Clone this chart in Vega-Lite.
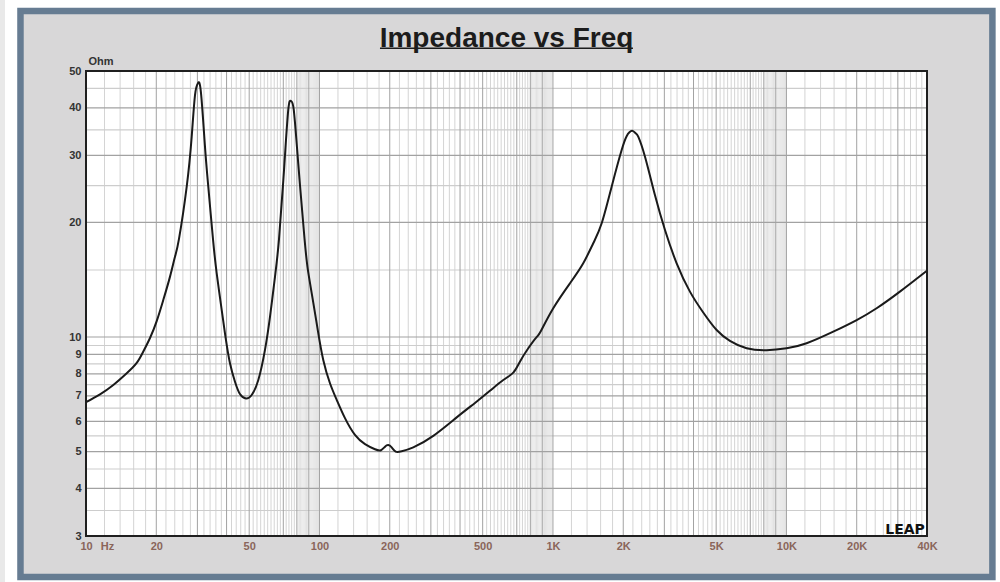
{
  "$schema": "https://vega.github.io/schema/vega-lite/v6.json",
  "width": 841,
  "height": 465,
  "autosize": {"type": "none"},
  "padding": {"left": 86, "top": 71, "right": 73, "bottom": 46},
  "background": "#ffffff",
  "title": {
    "text": "Impedance vs Freq",
    "font": "Liberation Sans",
    "fontWeight": "bold",
    "fontSize": 28,
    "color": "#1c1c1c",
    "anchor": "middle",
    "offset": -53,
    "zindex": 1
  },
  "config": {
    "view": {"stroke": null}
  },
  "datasets": {
    "curve": [
      {"hz": 10, "ohm": 6.74}, {"hz": 11.48, "ohm": 7.07}, {"hz": 13.09, "ohm": 7.48}, {"hz": 14.94, "ohm": 8.03},
      {"hz": 16.49, "ohm": 8.55}, {"hz": 17.6, "ohm": 9.16}, {"hz": 18.8, "ohm": 9.94}, {"hz": 20.08, "ohm": 11.01},
      {"hz": 21.43, "ohm": 12.51}, {"hz": 22.9, "ohm": 14.41}, {"hz": 24.05, "ohm": 16.26}, {"hz": 25.02, "ohm": 18.1},
      {"hz": 27, "ohm": 24.83}, {"hz": 28.36, "ohm": 33.6}, {"hz": 29.3, "ohm": 43.2}, {"hz": 30.19, "ohm": 46.5},
      {"hz": 31.08, "ohm": 43.8}, {"hz": 32.33, "ohm": 31.64}, {"hz": 33.4, "ohm": 24.83}, {"hz": 34.98, "ohm": 18.1},
      {"hz": 36.29, "ohm": 14.7}, {"hz": 38.12, "ohm": 11.78}, {"hz": 39.65, "ohm": 9.93}, {"hz": 41.37, "ohm": 8.53},
      {"hz": 43.46, "ohm": 7.63}, {"hz": 45.65, "ohm": 7.08}, {"hz": 48.44, "ohm": 6.89}, {"hz": 51.24, "ohm": 7.04},
      {"hz": 54.7, "ohm": 7.71}, {"hz": 58.4, "ohm": 9.24}, {"hz": 61.4, "ohm": 11.31}, {"hz": 64.5, "ohm": 14.41},
      {"hz": 67.1, "ohm": 18.1}, {"hz": 70.5, "ohm": 27.5}, {"hz": 73.5, "ohm": 39.5}, {"hz": 75.5, "ohm": 41.7},
      {"hz": 77.6, "ohm": 39.5}, {"hz": 81.1, "ohm": 28.6}, {"hz": 86.3, "ohm": 18.1}, {"hz": 89.5, "ohm": 14.8},
      {"hz": 94.1, "ohm": 12.3}, {"hz": 98.5, "ohm": 10.36}, {"hz": 103.8, "ohm": 8.7}, {"hz": 110.9, "ohm": 7.56},
      {"hz": 118.5, "ohm": 6.84}, {"hz": 128.6, "ohm": 6.12}, {"hz": 141.9, "ohm": 5.53}, {"hz": 156.7, "ohm": 5.23},
      {"hz": 172.9, "ohm": 5.07}, {"hz": 183.4, "ohm": 5.04}, {"hz": 190.8, "ohm": 5.15}, {"hz": 197.1, "ohm": 5.2},
      {"hz": 203.8, "ohm": 5.13}, {"hz": 212, "ohm": 5.0}, {"hz": 224.9, "ohm": 5.01}, {"hz": 252.2, "ohm": 5.13},
      {"hz": 307.2, "ohm": 5.5}, {"hz": 387, "ohm": 6.15}, {"hz": 463.4, "ohm": 6.71}, {"hz": 537, "ohm": 7.22},
      {"hz": 612.6, "ohm": 7.71}, {"hz": 676, "ohm": 8.06}, {"hz": 722, "ohm": 8.61}, {"hz": 784, "ohm": 9.34},
      {"hz": 851, "ohm": 9.99}, {"hz": 888, "ohm": 10.37}, {"hz": 1003, "ohm": 11.9}, {"hz": 1183, "ohm": 13.84},
      {"hz": 1348, "ohm": 15.62}, {"hz": 1488, "ohm": 17.63}, {"hz": 1617, "ohm": 19.9}, {"hz": 1784, "ohm": 24.83},
      {"hz": 1969, "ohm": 31.0}, {"hz": 2068, "ohm": 33.7}, {"hz": 2126, "ohm": 34.5}, {"hz": 2194, "ohm": 34.8},
      {"hz": 2267, "ohm": 34.25}, {"hz": 2319, "ohm": 33.6},
      {"hz": 2477, "ohm": 29.8}, {"hz": 2734, "ohm": 23.6}, {"hz": 3019, "ohm": 19.1}, {"hz": 3387, "ohm": 15.62},
      {"hz": 3861, "ohm": 13.16}, {"hz": 4402, "ohm": 11.6}, {"hz": 5024, "ohm": 10.43}, {"hz": 5728, "ohm": 9.77},
      {"hz": 6754, "ohm": 9.34}, {"hz": 8226, "ohm": 9.23}, {"hz": 10020, "ohm": 9.34}, {"hz": 12200, "ohm": 9.63},
      {"hz": 15870, "ohm": 10.33}, {"hz": 19990, "ohm": 11.08}, {"hz": 24340, "ohm": 11.9}, {"hz": 30620, "ohm": 13.16},
      {"hz": 40000, "ohm": 14.94}
    ],
    "xMinor": [
      {"hz": 12}, {"hz": 14}, {"hz": 16}, {"hz": 18}, {"hz": 22}, {"hz": 24}, {"hz": 26}, {"hz": 28},
      {"hz": 32}, {"hz": 34}, {"hz": 36}, {"hz": 38}, {"hz": 42}, {"hz": 44}, {"hz": 46}, {"hz": 48},
      {"hz": 52}, {"hz": 54}, {"hz": 56}, {"hz": 58}, {"hz": 60}, {"hz": 62}, {"hz": 64}, {"hz": 66}, {"hz": 68},
      {"hz": 72}, {"hz": 74}, {"hz": 76}, {"hz": 78},
      {"hz": 120}, {"hz": 140}, {"hz": 160}, {"hz": 180}, {"hz": 220}, {"hz": 240}, {"hz": 260}, {"hz": 280},
      {"hz": 320}, {"hz": 340}, {"hz": 360}, {"hz": 380}, {"hz": 420}, {"hz": 440}, {"hz": 460}, {"hz": 480},
      {"hz": 520}, {"hz": 540}, {"hz": 560}, {"hz": 580}, {"hz": 600}, {"hz": 620}, {"hz": 640}, {"hz": 660}, {"hz": 680},
      {"hz": 720}, {"hz": 740}, {"hz": 760}, {"hz": 780},
      {"hz": 1200}, {"hz": 1400}, {"hz": 1600}, {"hz": 1800}, {"hz": 2200}, {"hz": 2400}, {"hz": 2600}, {"hz": 2800},
      {"hz": 3200}, {"hz": 3400}, {"hz": 3600}, {"hz": 3800}, {"hz": 4200}, {"hz": 4400}, {"hz": 4600}, {"hz": 4800},
      {"hz": 5200}, {"hz": 5400}, {"hz": 5600}, {"hz": 5800}, {"hz": 6000}, {"hz": 6200}, {"hz": 6400}, {"hz": 6600}, {"hz": 6800},
      {"hz": 7200}, {"hz": 7400}, {"hz": 7600}, {"hz": 7800},
      {"hz": 12000}, {"hz": 14000}, {"hz": 16000}, {"hz": 18000}, {"hz": 22000}, {"hz": 24000}, {"hz": 26000}, {"hz": 28000},
      {"hz": 32000}, {"hz": 34000}, {"hz": 36000}, {"hz": 38000}
    ],
    "xDense": [
      {"hz": 81}, {"hz": 82}, {"hz": 83}, {"hz": 84}, {"hz": 85}, {"hz": 86}, {"hz": 87}, {"hz": 88}, {"hz": 89},
      {"hz": 91}, {"hz": 92}, {"hz": 93}, {"hz": 94}, {"hz": 95}, {"hz": 96}, {"hz": 97}, {"hz": 98}, {"hz": 99},
      {"hz": 810}, {"hz": 820}, {"hz": 830}, {"hz": 840}, {"hz": 850}, {"hz": 860}, {"hz": 870}, {"hz": 880}, {"hz": 890},
      {"hz": 910}, {"hz": 920}, {"hz": 930}, {"hz": 940}, {"hz": 950}, {"hz": 960}, {"hz": 970}, {"hz": 980}, {"hz": 990},
      {"hz": 8100}, {"hz": 8200}, {"hz": 8300}, {"hz": 8400}, {"hz": 8500}, {"hz": 8600}, {"hz": 8700}, {"hz": 8800}, {"hz": 8900},
      {"hz": 9100}, {"hz": 9200}, {"hz": 9300}, {"hz": 9400}, {"hz": 9500}, {"hz": 9600}, {"hz": 9700}, {"hz": 9800}, {"hz": 9900}
    ],
    "xMajor": [
      {"hz": 20}, {"hz": 30}, {"hz": 40}, {"hz": 50}, {"hz": 70}, {"hz": 80}, {"hz": 90}, {"hz": 100},
      {"hz": 200}, {"hz": 300}, {"hz": 400}, {"hz": 500}, {"hz": 700}, {"hz": 800}, {"hz": 900}, {"hz": 1000},
      {"hz": 2000}, {"hz": 3000}, {"hz": 4000}, {"hz": 5000}, {"hz": 7000}, {"hz": 8000}, {"hz": 9000}, {"hz": 10000},
      {"hz": 20000}, {"hz": 30000}
    ],
    "yMinor": [
      {"ohm": 3.5}, {"ohm": 4.5}, {"ohm": 5.5}, {"ohm": 6.5}, {"ohm": 7.5}, {"ohm": 8.5}, {"ohm": 9.5},
      {"ohm": 15}, {"ohm": 25}, {"ohm": 35}, {"ohm": 45}
    ],
    "yMajor": [
      {"ohm": 4}, {"ohm": 5}, {"ohm": 6}, {"ohm": 7}, {"ohm": 8}, {"ohm": 9}, {"ohm": 10},
      {"ohm": 20}, {"ohm": 30}, {"ohm": 40}
    ]
  },
  "layer": [
    {
      "data": {"values": [{}]},
      "mark": {"type": "rect", "fill": "#e9e9e9"},
      "encoding": {
        "x": {"datum": 4.28, "type": "quantitative"},
        "x2": {"datum": 4.5},
        "y": {"datum": 76.9, "type": "quantitative"},
        "y2": {"datum": 2.27}
      }
    },
    {
      "data": {"values": [{}]},
      "mark": {"type": "rect", "fill": "#d8d7d8", "stroke": "#667c92", "strokeWidth": 6.5},
      "encoding": {
        "x": {
          "datum": 5.24,
          "type": "quantitative",
          "scale": {"type": "log", "domain": [10, 40000], "nice": false},
          "axis": {
            "zindex": 1,
            "title": "Hz",
            "titleFont": "Liberation Sans",
            "titleFontWeight": "bold",
            "titleFontSize": 11,
            "titleColor": "#8a655a",
            "titleX": 21,
            "titleY": 4,
            "titleAlign": "center",
            "values": [10, 20, 50, 100, 200, 500, 1000, 2000, 5000, 10000, 20000, 40000],
            "labelExpr": "datum.value >= 1000 ? (datum.value / 1000) + 'K' : datum.value",
            "labelFont": "Liberation Sans",
            "labelFontWeight": "bold",
            "labelFontSize": 11,
            "labelColor": "#8a655a",
            "labelPadding": 4,
            "labelAngle": 0,
            "labelFlush": false,
            "labelOverlap": false,
            "labelBound": false,
            "ticks": false,
            "domain": false,
            "grid": false
          }
        },
        "x2": {"datum": 76240},
        "y": {
          "datum": 71.9,
          "type": "quantitative",
          "scale": {"type": "log", "domain": [3, 50], "nice": false},
          "axis": {
            "zindex": 1,
            "title": "Ohm",
            "titleFont": "Liberation Sans",
            "titleFontWeight": "bold",
            "titleFontSize": 11,
            "titleColor": "#333333",
            "titleAngle": 0,
            "titleAlign": "left",
            "titleX": 2,
            "titleY": -5,
            "values": [3, 4, 5, 6, 7, 8, 9, 10, 20, 30, 40, 50],
            "labelFont": "Liberation Sans",
            "labelFontWeight": "bold",
            "labelFontSize": 11,
            "labelColor": "#333333",
            "labelPadding": 5,
            "labelOverlap": false,
            "labelBound": false,
            "labelFlush": false,
            "ticks": false,
            "domain": false,
            "grid": false
          }
        },
        "y2": {"datum": 2.34}
      }
    },
    {
      "data": {"values": [{}]},
      "mark": {"type": "rect", "fill": "#ffffff"},
      "encoding": {
        "x": {"datum": 10, "type": "quantitative"},
        "x2": {"datum": 40000},
        "y": {"datum": 3, "type": "quantitative"},
        "y2": {"datum": 50}
      }
    },
    {
      "data": {"name": "xDense"},
      "mark": {"type": "rule", "stroke": "#e3e3e3", "strokeWidth": 1},
      "encoding": {"x": {"field": "hz", "type": "quantitative"}}
    },
    {
      "data": {"name": "xMinor"},
      "mark": {"type": "rule", "stroke": "#d4d4d4", "strokeWidth": 1},
      "encoding": {"x": {"field": "hz", "type": "quantitative"}}
    },
    {
      "data": {"name": "yMinor"},
      "mark": {"type": "rule", "stroke": "#cdcdcd", "strokeWidth": 1.2},
      "encoding": {"y": {"field": "ohm", "type": "quantitative"}}
    },
    {
      "data": {"name": "xMajor"},
      "mark": {"type": "rule", "stroke": "#a2a2a2", "strokeWidth": 1},
      "encoding": {"x": {"field": "hz", "type": "quantitative"}}
    },
    {
      "data": {"name": "yMajor"},
      "mark": {"type": "rule", "stroke": "#a2a2a2", "strokeWidth": 1.2},
      "encoding": {"y": {"field": "ohm", "type": "quantitative"}}
    },
    {
      "data": {"name": "curve"},
      "mark": {"type": "line", "interpolate": "natural", "stroke": "#1a1a1a", "strokeWidth": 2},
      "encoding": {
        "x": {"field": "hz", "type": "quantitative"},
        "y": {"field": "ohm", "type": "quantitative"}
      }
    },
    {
      "data": {"values": [{}]},
      "mark": {"type": "rect", "fill": null, "stroke": "#1f1f1f", "strokeWidth": 2},
      "encoding": {
        "x": {"datum": 10, "type": "quantitative"},
        "x2": {"datum": 40000},
        "y": {"datum": 3, "type": "quantitative"},
        "y2": {"datum": 50}
      }
    },
    {
      "data": {"values": [{}]},
      "mark": {"type": "rule", "stroke": "#1c1c1c", "strokeWidth": 1.6},
      "encoding": {
        "x": {"datum": 181.6, "type": "quantitative"},
        "x2": {"datum": 2201},
        "y": {"datum": 57.4, "type": "quantitative"}
      }
    },
    {
      "data": {"values": [{"label": "LEAP"}]},
      "mark": {"type": "text", "font": "DejaVu Sans", "fontWeight": "bold", "fontSize": 14, "align": "right", "baseline": "alphabetic", "color": "#111111"},
      "encoding": {
        "x": {"datum": 39170, "type": "quantitative"},
        "y": {"datum": 3.04, "type": "quantitative"},
        "text": {"field": "label"}
      }
    }
  ]
}
